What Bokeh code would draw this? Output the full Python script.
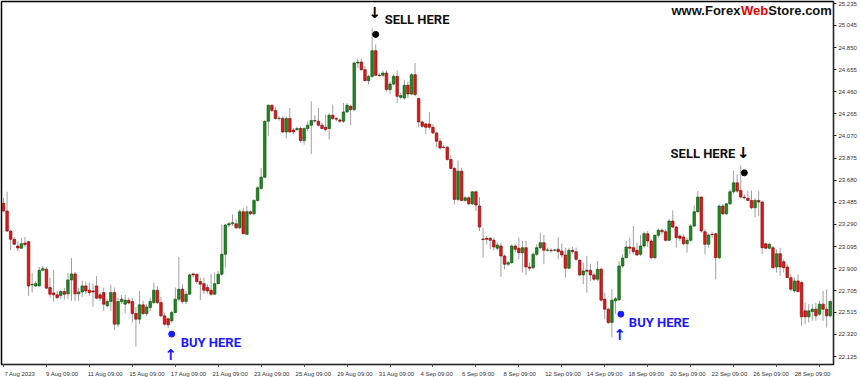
from bokeh.plotting import figure
from bokeh.layouts import column
from bokeh.models import Range1d, FixedTicker, Label, ColumnDataSource, NumeralTickFormatter
from bokeh.embed import file_html
from bokeh.resources import INLINE
from bokeh.core.properties import value

# ---------------- data (4H candles, 7 Aug - 28 Sep 2023) ----------------
opens = [23.476,23.408,23.232,23.159,23.100,23.080,23.126,23.138,22.757,22.748,
22.748,22.886,22.895,22.733,22.686,22.669,22.663,22.698,22.678,22.801,
22.854,22.678,22.695,22.748,22.710,22.704,22.748,22.669,22.689,22.572,
22.610,22.689,22.411,22.610,22.587,22.622,22.610,22.504,22.455,22.581,
22.504,22.557,22.601,22.710,22.601,22.484,22.458,22.440,22.513,22.631,
22.719,22.610,22.675,22.854,22.851,22.786,22.768,22.733,22.710,22.675,
22.768,22.851,23.027,23.285,23.296,23.296,23.261,23.402,23.203,23.402,
23.384,23.502,23.608,23.707,24.200,24.341,24.294,24.224,24.224,24.106,
24.224,24.123,24.127,24.136,24.030,24.136,24.165,24.206,24.200,24.165,
24.147,24.136,24.253,24.224,24.211,24.200,24.282,24.332,24.303,24.713,
24.722,24.655,24.558,24.596,24.822,24.605,24.605,24.625,24.479,24.528,
24.596,24.411,24.405,24.517,24.440,24.611,24.400,24.194,24.176,24.176,
24.147,24.097,24.024,23.971,23.971,23.863,23.784,23.511,23.760,23.502,
23.525,23.472,23.578,23.452,23.162,23.168,23.168,23.150,23.080,23.100,
23.012,22.939,22.953,23.100,23.080,23.041,23.085,22.915,22.909,23.027,
23.085,23.129,23.062,23.062,23.062,23.071,23.056,23.021,22.904,23.062,
23.050,22.974,22.845,22.886,22.886,22.845,22.807,22.895,22.631,22.543,
22.425,22.616,22.625,22.924,22.997,23.091,23.085,23.062,23.027,23.100,
23.208,23.144,22.997,23.194,23.238,23.226,23.150,23.320,23.267,23.188,
23.179,23.120,23.150,23.276,23.402,23.531,23.226,23.115,23.203,23.208,
22.997,23.452,23.384,23.472,23.578,23.657,23.590,23.531,23.520,23.502,
23.437,23.502,23.487,23.120,23.080,23.085,22.915,23.032,22.962,22.915,
22.821,22.704,22.792,22.777,22.528,22.475,22.522,22.543,22.499,22.587,
22.543,22.484]

highs = [23.525,23.578,23.240,23.179,23.144,23.173,23.179,23.144,22.865,22.792,
22.915,22.924,22.915,22.821,22.889,22.704,22.710,22.730,22.862,22.994,
22.871,22.730,22.792,22.786,22.777,22.768,22.836,22.689,22.733,22.631,
22.757,22.733,22.645,22.669,22.669,22.645,22.645,22.563,22.704,22.616,
22.587,22.645,22.777,22.748,22.651,22.513,22.469,22.528,22.733,23.003,
22.763,22.704,22.856,22.865,22.856,22.821,22.821,22.763,22.856,22.865,
22.880,23.291,23.296,23.314,23.379,23.335,23.423,23.437,23.452,23.414,
23.511,23.628,23.789,24.206,24.347,24.347,24.323,24.244,24.244,24.244,
24.317,24.141,24.153,24.153,24.147,24.200,24.376,24.253,24.317,24.185,
24.259,24.273,24.347,24.235,24.226,24.361,24.361,24.347,24.728,24.752,
24.752,24.684,24.611,25.021,24.878,24.625,24.646,24.646,24.552,24.616,
24.646,24.449,24.567,24.552,24.625,24.713,24.411,24.206,24.185,24.282,
24.176,24.106,24.048,23.989,23.980,23.901,23.795,23.854,23.789,23.540,
23.540,23.584,23.590,23.531,23.261,23.188,23.179,23.173,23.129,23.129,
23.027,22.968,23.115,23.115,23.173,23.144,23.144,22.953,23.041,23.115,
23.217,23.197,23.085,23.080,23.071,23.179,23.120,23.085,23.085,23.091,
23.085,22.983,22.953,23.012,22.944,22.865,22.968,22.909,22.689,22.557,
22.719,22.651,22.968,23.027,23.144,23.173,23.276,23.129,23.197,23.226,
23.232,23.159,23.203,23.256,23.256,23.247,23.335,23.414,23.276,23.203,
23.203,23.173,23.291,23.461,23.584,23.540,23.247,23.208,23.226,23.217,
23.467,23.472,23.481,23.599,23.766,23.731,23.813,23.555,23.590,23.590,
23.525,23.584,23.496,23.129,23.129,23.100,23.071,23.085,22.983,22.939,
22.851,22.821,22.851,22.792,22.601,22.587,22.587,22.601,22.616,22.704,
22.719,22.622]

lows = [23.404,23.223,23.062,23.109,23.056,23.078,23.091,22.660,22.689,22.739,
22.744,22.880,22.722,22.645,22.610,22.631,22.631,22.625,22.634,22.616,
22.616,22.616,22.651,22.675,22.660,22.563,22.634,22.616,22.528,22.557,
22.528,22.358,22.387,22.587,22.504,22.587,22.425,22.211,22.411,22.493,
22.484,22.528,22.587,22.587,22.475,22.396,22.376,22.425,22.504,22.610,
22.587,22.587,22.669,22.821,22.763,22.622,22.675,22.680,22.660,22.669,
22.763,22.836,22.909,23.267,23.276,23.247,23.247,23.203,23.197,23.373,
23.373,23.490,23.595,23.701,24.068,24.282,24.215,24.206,24.097,24.048,
24.097,24.088,24.112,24.009,23.995,24.112,23.912,24.185,24.156,24.127,
24.112,24.039,24.211,24.200,24.185,24.185,24.273,24.165,24.288,24.669,
24.646,24.552,24.523,24.581,24.596,24.593,24.593,24.464,24.440,24.517,
24.361,24.396,24.391,24.405,24.429,24.420,24.147,24.141,24.088,24.127,
24.088,23.971,23.951,23.960,23.854,23.775,23.467,23.496,23.496,23.490,
23.461,23.461,23.408,23.232,22.997,23.115,23.071,23.062,23.062,22.827,
22.895,22.924,22.944,23.041,22.983,22.865,22.845,22.880,22.895,23.012,
23.071,22.939,23.050,23.041,23.050,22.983,22.997,22.821,22.895,23.032,
22.968,22.836,22.763,22.689,22.792,22.792,22.792,22.610,22.455,22.411,
22.293,22.502,22.616,22.906,22.992,23.027,23.027,23.012,23.012,23.085,
23.091,22.983,22.983,23.173,23.203,23.138,23.144,23.256,23.085,23.144,
23.109,23.041,23.138,23.267,23.393,23.217,23.027,23.085,23.173,22.807,
22.983,23.373,23.373,23.461,23.560,23.569,23.520,23.511,23.496,23.423,
23.355,23.364,23.027,23.071,23.071,22.895,22.865,22.836,22.865,22.821,
22.704,22.689,22.689,22.396,22.411,22.425,22.440,22.440,22.484,22.440,
22.381,22.469]

closes = [23.408,23.232,23.159,23.115,23.082,23.120,23.113,22.748,22.761,22.768,
22.886,22.900,22.728,22.675,22.669,22.645,22.698,22.675,22.801,22.854,
22.678,22.695,22.748,22.704,22.689,22.695,22.640,22.640,22.587,22.610,
22.689,22.411,22.610,22.631,22.622,22.598,22.504,22.455,22.581,22.504,
22.563,22.610,22.710,22.601,22.484,22.411,22.405,22.513,22.631,22.719,
22.610,22.675,22.845,22.845,22.786,22.763,22.710,22.704,22.675,22.768,
22.851,23.027,23.285,23.296,23.305,23.261,23.402,23.208,23.402,23.384,
23.502,23.613,23.707,24.200,24.341,24.294,24.224,24.226,24.106,24.224,
24.106,24.106,24.136,24.030,24.136,24.165,24.206,24.203,24.165,24.136,
24.127,24.253,24.224,24.218,24.200,24.282,24.341,24.303,24.713,24.722,
24.655,24.558,24.596,24.822,24.605,24.602,24.625,24.479,24.528,24.596,
24.420,24.426,24.517,24.440,24.611,24.435,24.194,24.156,24.147,24.147,
24.097,24.024,23.965,23.969,23.863,23.784,23.511,23.760,23.502,23.525,
23.472,23.578,23.461,23.267,23.157,23.159,23.150,23.091,23.109,23.012,
22.939,22.953,23.100,23.071,23.041,23.085,22.915,22.904,23.027,23.085,
23.129,23.062,23.065,23.059,23.065,23.050,23.021,22.904,23.062,23.050,
22.983,22.845,22.880,22.877,22.845,22.807,22.895,22.622,22.543,22.425,
22.622,22.634,22.924,22.994,23.091,23.080,23.050,23.021,23.100,23.208,
23.144,22.997,23.194,23.238,23.226,23.150,23.320,23.267,23.173,23.168,
23.120,23.150,23.276,23.402,23.531,23.232,23.115,23.197,23.200,22.997,
23.452,23.384,23.472,23.578,23.657,23.584,23.531,23.525,23.502,23.437,
23.502,23.487,23.085,23.080,23.115,22.909,23.032,22.915,22.909,22.821,
22.719,22.792,22.698,22.475,22.475,22.528,22.543,22.484,22.587,22.543,
22.484,22.610]

date_tick_idx = [0, 12, 24, 36, 48, 60, 72, 84, 96, 108, 120, 132, 144, 156, 168, 180, 192, 204, 216, 228]
date_tick_labels = ["7 Aug 2023", "9 Aug 09:00", "11 Aug 09:00", "15 Aug 09:00", "17 Aug 09:00",
                    "21 Aug 09:00", "23 Aug 09:00", "25 Aug 09:00", "29 Aug 09:00", "31 Aug 09:00",
                    "4 Sep 09:00", "6 Sep 09:00", "8 Sep 09:00", "12 Sep 09:00", "14 Sep 09:00",
                    "18 Sep 09:00", "20 Sep 09:00", "22 Sep 09:00", "26 Sep 09:00", "28 Sep 09:00"]
price_ticks = [25.235, 25.045, 24.850, 24.655, 24.460, 24.265, 24.070, 23.875, 23.680,
               23.485, 23.290, 23.095, 22.900, 22.705, 22.515, 22.320, 22.125]

# signals (candle index, price of the marker dot)
sell_idx = [104, 207]
sell_price = [24.966, 23.745]
buy_idx = [47, 172.5]
buy_price = [22.323, 22.499]

# ---------------- styles ----------------
GREEN_FILL, GREEN_LINE = "#1e8a1e", "#0b4a0b"
RED_FILL, RED_LINE = "#e01a1a", "#7a0000"
WICK = "#a0a0a0"
BLUE = "#1a1aff"
X0, X1 = -0.56, 231.92          # visible candle range of the main frame
PX_PER_UNIT = 832 / (X1 - X0)    # main frame is 832 px wide

n = len(opens)
xs = list(range(n))
up = [c >= o for o, c in zip(opens, closes)]
src = ColumnDataSource(dict(
    x=xs, h=highs, l=lows,
    top=[max(o, c) for o, c in zip(opens, closes)],
    bottom=[min(o, c) for o, c in zip(opens, closes)],
    fill=[GREEN_FILL if u else RED_FILL for u in up],
    line=[GREEN_LINE if u else RED_LINE for u in up],
))

p = figure(width=860, height=367, output_backend="svg", toolbar_location=None,
           x_range=Range1d(X0, X1), y_range=Range1d(22.055, 25.256),
           y_axis_location="right",
           min_border_left=1, min_border_top=1, min_border_right=27, min_border_bottom=3)
p.xgrid.visible = False
p.ygrid.visible = False
p.outline_line_color = "black"
p.outline_line_width = 1.5
p.background_fill_color = "white"
p.border_fill_color = "white"

p.segment(x0="x", y0="h", x1="x", y1="l", source=src, line_color=WICK, line_width=1)
p.vbar(x="x", width=0.72, top="top", bottom="bottom", source=src,
       fill_color="fill", line_color="line", line_width=0.6)

# axes
ya = p.yaxis[0]
ya.ticker = FixedTicker(ticks=price_ticks)
ya.formatter = NumeralTickFormatter(format="0.000")
ya.axis_line_color = "#222222"
ya.major_tick_out = 3
ya.major_tick_in = 0
ya.minor_tick_line_color = None
ya.major_tick_line_color = "#222222"
ya.major_label_text_font_size = "6px"
ya.major_label_text_font = "Liberation Sans"
ya.major_label_text_color = "#333333"
ya.major_label_standoff = 2

xa = p.xaxis[0]
xa.ticker = FixedTicker(ticks=date_tick_idx)
xa.major_label_overrides = {i: "" for i in date_tick_idx}
xa.axis_line_color = "#222222"
xa.major_tick_out = 3
xa.major_tick_in = 0
xa.minor_tick_line_color = None
xa.major_tick_line_color = "#555555"
xa.major_label_text_font_size = "0px"
xa.major_label_standoff = 0

# signal markers
p.scatter(sell_idx, sell_price, size=6, color="black")
p.scatter(buy_idx, buy_price, size=6, color=BLUE)

sell_text_style = [("left", 9, -15), ("right", -9, -19)]
buy_text_style = [("left", 9, 8), ("left", 8, 8)]
sell_arrow_dy = [-21, -20]
buy_arrow_dy = [21, 21]

for xi, yi, (al, dx, dy), ady in zip(sell_idx, sell_price, sell_text_style, sell_arrow_dy):
    p.text(x=[xi], y=[yi], text=["SELL HERE"], x_offset=dx, y_offset=dy, text_align=al,
           text_baseline="middle", text_font=value("Roboto"), text_font_style="bold",
           text_font_size="13px", text_color="#111111")
    p.text(x=[xi], y=[yi], text=["\u2193"], x_offset=-1, y_offset=ady, text_align="center",
           text_baseline="middle", text_font=value("DejaVu Sans"), text_font_style="bold",
           text_font_size="15px", text_color="#000000")

for xi, yi, (al, dx, dy), ady in zip(buy_idx, buy_price, buy_text_style, buy_arrow_dy):
    p.text(x=[xi], y=[yi], text=["BUY HERE"], x_offset=dx, y_offset=dy, text_align=al,
           text_baseline="middle", text_font=value("Roboto"), text_font_style="bold",
           text_font_size="13px", text_color=BLUE)
    p.text(x=[xi], y=[yi], text=["\u2191"], x_offset=-1, y_offset=ady, text_align="center",
           text_baseline="middle", text_font=value("DejaVu Sans"), text_font_style="bold",
           text_font_size="15px", text_color=BLUE)

# watermark
wm_parts = [("www.Forex", "#111111", 670), ("Web", "#e00000", 739.4), ("Store.com", "#111111", 766.8)]
for txt, col, sx in wm_parts:
    p.add_layout(Label(x=sx, y=354, x_units="screen", y_units="screen", text=txt,
                       text_font="Liberation Sans", text_font_style="bold", text_font_size="13px",
                       text_color=col, text_baseline="middle", text_align="left"))

# strip below the chart holding the MT4-style date labels (left-aligned at their ticks)
strip = figure(width=860, height=10, output_backend="svg", toolbar_location=None,
               x_range=Range1d(X0, X0 + 859 / PX_PER_UNIT), y_range=Range1d(0, 1),
               x_axis_location=None, y_axis_location=None,
               min_border_left=1, min_border_right=0, min_border_top=0, min_border_bottom=0)
strip.xgrid.visible = False
strip.ygrid.visible = False
strip.outline_line_color = None
strip.background_fill_color = "white"
strip.border_fill_color = "white"
strip.text(x=date_tick_idx, y=[0.5] * len(date_tick_idx), text=date_tick_labels,
           x_offset=1, y_offset=-1, text_align="left", text_baseline="middle",
           text_font=value("Liberation Sans"), text_font_size="6px", text_color="#333333")

layout = column(p, strip, spacing=0)
open("out.html", "w").write(file_html(layout, INLINE))
